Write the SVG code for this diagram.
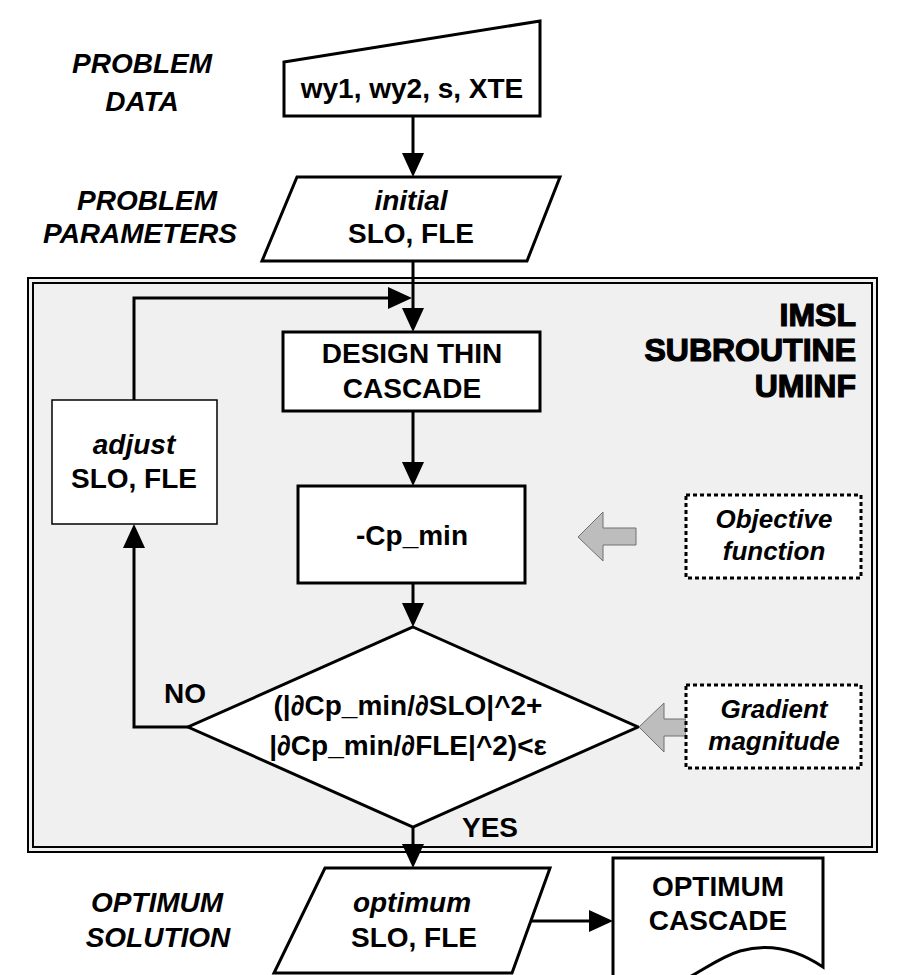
<svg xmlns="http://www.w3.org/2000/svg" width="908" height="975" viewBox="0 0 908 975">
<style>
text{font-family:"Liberation Sans",Arial,sans-serif;font-weight:bold;font-size:28px;fill:#000;text-anchor:middle}
.it{font-style:italic}
.big{font-size:32px;text-anchor:end;stroke:#000;stroke-width:1.2}
.sm{font-size:26px}
.box{fill:#fff;stroke:#000;stroke-width:3}
.thin{fill:#fff;stroke:#000;stroke-width:1.5}
.dash{fill:#fff;stroke:#000;stroke-width:3;stroke-dasharray:4 3}
.conn{fill:none;stroke:#000;stroke-width:3}
.gray{fill:#bdbdbd;stroke:#707070;stroke-width:1}
</style>
<defs>
<marker id="ah" markerWidth="24" markerHeight="22" refX="20" refY="11" orient="auto" markerUnits="userSpaceOnUse">
<path d="M0,0 L24,11 L0,22 Z" fill="#000"/>
</marker>
</defs>
<rect x="0" y="0" width="908" height="975" fill="#fff"/>

<g id="labels">
<text class="it" x="142" y="73">PROBLEM</text>
<text class="it" x="142" y="111">DATA</text>
<text class="it" x="147" y="210">PROBLEM</text>
<text class="it" x="140" y="243">PARAMETERS</text>
<text class="it" x="157" y="912">OPTIMUM</text>
<text class="it" x="158" y="947">SOLUTION</text>
</g>

<g id="imsl-frame">
<rect x="28" y="278" width="849" height="574" fill="#f0f0f0" stroke="#000" stroke-width="2"/>
<rect x="33" y="283" width="839" height="564" fill="none" stroke="#000" stroke-width="2"/>
<text class="big" x="856" y="326">IMSL</text>
<text class="big" x="856" y="361">SUBROUTINE</text>
<text class="big" x="856" y="397">UMINF</text>
</g>

<g id="connectors">
<line class="conn" x1="413" y1="116" x2="413" y2="173" marker-end="url(#ah)"/>
<line class="conn" x1="413" y1="261" x2="413" y2="328" marker-end="url(#ah)"/>
<path class="conn" d="M134,400 V298 H408" marker-end="url(#ah)"/>
<line class="conn" x1="413" y1="411" x2="413" y2="482" marker-end="url(#ah)"/>
<line class="conn" x1="413" y1="583" x2="413" y2="623" marker-end="url(#ah)"/>
<path class="conn" d="M188,727 H134 V528" marker-end="url(#ah)"/>
<line class="conn" x1="413" y1="827" x2="413" y2="864" marker-end="url(#ah)"/>
<line class="conn" x1="531" y1="921" x2="609" y2="921" marker-end="url(#ah)"/>
<text x="185" y="703">NO</text>
<text x="490" y="837">YES</text>
</g>

<g id="problem-data">
<polygon class="box" points="284,62 540,21 540,116 284,116"/>
<text x="412" y="98">wy1, wy2, s, XTE</text>
</g>

<g id="initial">
<polygon class="box" points="297,177 560,177 527,261 262,261"/>
<text class="it" x="411" y="210">initial</text>
<text x="411" y="243">SLO, FLE</text>
</g>

<g id="design">
<rect class="box" x="283" y="332" width="257" height="79"/>
<text x="412" y="363">DESIGN THIN</text>
<text x="412" y="398">CASCADE</text>
</g>

<g id="adjust">
<rect class="thin" x="52" y="400" width="165" height="124"/>
<text class="it" x="134" y="454">adjust</text>
<text x="134" y="488">SLO, FLE</text>
</g>

<g id="cpmin">
<rect class="box" x="298" y="486" width="227" height="97"/>
<text x="412" y="545">-Cp_min</text>
</g>

<g id="decision">
<polygon class="box" points="413,627 638,727 413,827 188,727"/>
<text x="408" y="715">(|∂Cp_min/∂SLO|^2+</text>
<text x="408" y="755">|∂Cp_min/∂FLE|^2)&lt;ε</text>
</g>

<g id="objective">
<polygon class="gray" points="578,537 603,512 603,528 636,528 636,545 603,545 603,561"/>
<rect class="dash" x="686" y="495" width="175" height="83"/>
<text class="it sm" x="774" y="528">Objective</text>
<text class="it sm" x="774" y="560">function</text>
</g>

<g id="gradient">
<polygon class="gray" points="639,727 664,703 664,719 686,719 686,736 664,736 664,752"/>
<rect class="dash" x="686" y="685" width="175" height="83"/>
<text class="it sm" x="774" y="718">Gradient</text>
<text class="it sm" x="774" y="750">magnitude</text>
</g>

<g id="optimum">
<polygon class="box" points="325,868 550,868 512,973 274,973"/>
<text class="it" x="412" y="912">optimum</text>
<text x="414" y="947">SLO, FLE</text>
</g>

<g id="cascade-doc">
<path class="box" d="M613,858 L823,858 L823,967 C795,948 768,943 740,951 C710,960 688,985 650,992 L613,992 Z"/>
<text x="718" y="896">OPTIMUM</text>
<text x="718" y="930">CASCADE</text>
</g>
</svg>
